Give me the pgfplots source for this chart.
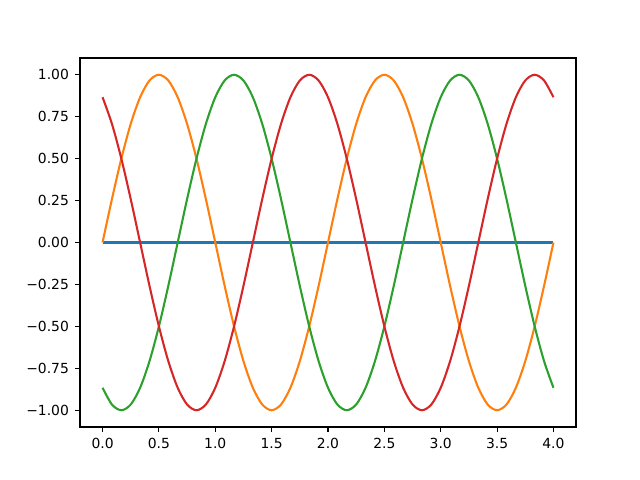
\documentclass[border=0pt]{standalone}
\usepackage{fontspec}
\setmainfont{DejaVu Sans}
\usepackage{pgfplots}
\usepackage{pgfplotstable}
\pgfplotsset{compat=1.18}
\definecolor{mplblue}{HTML}{1f77b4}
\definecolor{mplorange}{HTML}{ff7f0e}
\definecolor{mplgreen}{HTML}{2ca02c}
\definecolor{mplred}{HTML}{d62728}
\pgfplotstableread{
x o g r
0 0 -0.8660 0.8660
0.08333 0.2588 -0.9659 0.7071
0.16667 0.5 -1 0.5
0.25 0.7071 -0.9659 0.2588
0.33333 0.8660 -0.8660 0
0.41667 0.9659 -0.7071 -0.2588
0.5 1 -0.5 -0.5
0.58333 0.9659 -0.2588 -0.7071
0.66667 0.8660 0 -0.8660
0.75 0.7071 0.2588 -0.9659
0.83333 0.5 0.5 -1
0.91667 0.2588 0.7071 -0.9659
1 0 0.8660 -0.8660
1.08333 -0.2588 0.9659 -0.7071
1.16667 -0.5 1 -0.5
1.25 -0.7071 0.9659 -0.2588
1.33333 -0.8660 0.8660 0
1.41667 -0.9659 0.7071 0.2588
1.5 -1 0.5 0.5
1.58333 -0.9659 0.2588 0.7071
1.66667 -0.8660 0 0.8660
1.75 -0.7071 -0.2588 0.9659
1.83333 -0.5 -0.5 1
1.91667 -0.2588 -0.7071 0.9659
2 0 -0.8660 0.8660
2.08333 0.2588 -0.9659 0.7071
2.16667 0.5 -1 0.5
2.25 0.7071 -0.9659 0.2588
2.33333 0.8660 -0.8660 0
2.41667 0.9659 -0.7071 -0.2588
2.5 1 -0.5 -0.5
2.58333 0.9659 -0.2588 -0.7071
2.66667 0.8660 0 -0.8660
2.75 0.7071 0.2588 -0.9659
2.83333 0.5 0.5 -1
2.91667 0.2588 0.7071 -0.9659
3 0 0.8660 -0.8660
3.08333 -0.2588 0.9659 -0.7071
3.16667 -0.5 1 -0.5
3.25 -0.7071 0.9659 -0.2588
3.33333 -0.8660 0.8660 0
3.41667 -0.9659 0.7071 0.2588
3.5 -1 0.5 0.5
3.58333 -0.9659 0.2588 0.7071
3.66667 -0.8660 0 0.8660
3.75 -0.7071 -0.2588 0.9659
3.83333 -0.5 -0.5 1
3.91667 -0.2588 -0.7071 0.9659
4 0 -0.8660 0.8660
}\datatable
\begin{document}
\begin{tikzpicture}
\useasboundingbox (0,0) rectangle (460.8pt,345.6pt);
\begin{axis}[
  at={(57.6pt,38.16pt)}, anchor=south west,
  scale only axis, width=357.12pt, height=265.68pt,
  xmin=-0.2, xmax=4.2, ymin=-1.1, ymax=1.1,
  axis line style={line width=0.8pt},
  tick style={line width=0.8pt, black},
  tick align=outside, tick pos=left,
  major tick length=3.5pt,
  xtick={0,0.5,1,1.5,2,2.5,3,3.5,4},
  xticklabels={0.0,0.5,1.0,1.5,2.0,2.5,3.0,3.5,4.0},
  ytick={-1,-0.75,-0.5,-0.25,0,0.25,0.5,0.75,1},
  yticklabels={−1.00,−0.75,−0.50,−0.25,0.00,0.25,0.50,0.75,1.00},
  tick label style={font=\fontsize{10}{12}\selectfont},
  xticklabel style={yshift=-1pt},
  yticklabel style={xshift=-1pt},
]
\addplot[mplblue, line width=1.5pt] coordinates {(0,0) (4,0)};
\addplot[mplorange, line width=1.5pt, smooth] table[x=x,y=o]{\datatable};
\addplot[mplgreen, line width=1.5pt, smooth] table[x=x,y=g]{\datatable};
\addplot[mplred, line width=1.5pt, smooth] table[x=x,y=r]{\datatable};
\end{axis}
\end{tikzpicture}
\end{document}
